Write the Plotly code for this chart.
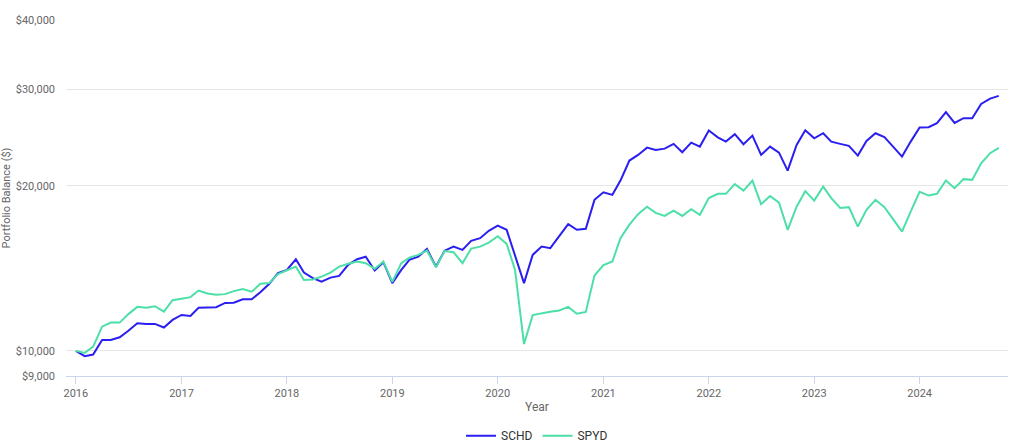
import plotly.graph_objects as go
import pandas as pd

dates = pd.date_range("2016-01-01", periods=106, freq="MS")

schd = [10000, 9780, 9846, 10472, 10470, 10590, 10880, 11230, 11200, 11200,
        11030, 11390, 11630, 11580, 11980, 11990, 12010, 12230, 12240, 12420,
        12420, 12790, 13250, 13860, 14050, 14690, 13890, 13570, 13370, 13600,
        13700, 14350, 14690, 14850, 14010, 14510, 13290, 14050, 14650, 14850,
        15340, 14240, 15230, 15490, 15280, 15870, 16050, 16550, 16920, 16620,
        14960, 13290, 14960, 15490, 15390, 16200, 17020, 16620, 16690, 18850,
        19460, 19250, 20440, 22230, 22760, 23470, 23240, 23370, 23840, 23020,
        23970, 23570, 25210, 24500, 24070, 24830, 23810, 24680, 22760, 23570,
        22980, 21310, 23740, 25250, 24410, 24930, 24070, 23840, 23640, 22700,
        24140, 24930, 24520, 23570, 22600, 24070, 25530, 25570, 26000, 27230,
        26030, 26550, 26550, 28190, 28830, 29160]

spyd = [10000, 9916, 10180, 11070, 11260, 11260, 11670, 12030, 11990, 12060,
        11790, 12370, 12450, 12530, 12880, 12720, 12660, 12690, 12850, 12970,
        12820, 13250, 13290, 13800, 14030, 14240, 13470, 13490, 13660, 13890,
        14240, 14420, 14550, 14450, 14110, 14550, 13360, 14450, 14790, 14960,
        15230, 14210, 15210, 15130, 14450, 15360, 15490, 15750, 16180, 15670,
        14050, 10290, 11620, 11710, 11780, 11850, 12030, 11690, 11780, 13720,
        14330, 14550, 16050, 16990, 17750, 18320, 17850, 17620, 18020, 17620,
        18120, 17700, 18990, 19330, 19330, 20130, 19600, 20440, 18510, 19160,
        18630, 16620, 18320, 19550, 18790, 19930, 18990, 18220, 18280, 16850,
        18070, 18850, 18280, 17380, 16500, 17940, 19490, 19190, 19330, 20440,
        19800, 20560, 20500, 21980, 22930, 23440]

y_ticks = [9000, 10000, 20000, 30000, 40000]
y_tick_labels = ["$9,000", "$10,000", "$20,000", "$30,000", "$40,000"]

FONT = "Roboto, 'Open Sans', sans-serif"

fig = go.Figure()
fig.add_trace(go.Scatter(x=dates, y=schd, mode="lines", name="SCHD",
                         line=dict(color="#2a1ff0", width=2)))
fig.add_trace(go.Scatter(x=dates, y=spyd, mode="lines", name="SPYD",
                         line=dict(color="#4ddfa8", width=2)))

fig.update_layout(
    width=1024, height=443,
    margin=dict(l=66, r=16, t=20, b=67, autoexpand=False),
    paper_bgcolor="white", plot_bgcolor="white",
    font=dict(family=FONT, size=11, color="#666666"),
    legend=dict(orientation="h", x=0.5, xanchor="center", y=-0.168, yanchor="middle",
                font=dict(size=12, color="#333333"), itemwidth=30),
    showlegend=True,
)
fig.update_xaxes(
    automargin=False,
    range=["2015-11-28", "2024-11-02"],
    tickformat="%Y", dtick="M12", tick0="2016-01-01",
    showgrid=False, showline=True, linecolor="#ccd6eb", linewidth=1,
    ticks="outside", ticklen=7, tickcolor="#ccd6eb",
    tickfont=dict(size=11, color="#666666"),
    title=dict(text="Year", font=dict(size=12, color="#666666"), standoff=3),
    zeroline=False,
)
fig.update_yaxes(
    automargin=False,
    type="log",
    range=[3.9542425, 4.6031],
    tickvals=y_ticks, ticktext=y_tick_labels,
    showgrid=True, gridcolor="#e6e6e6", gridwidth=1,
    showline=False, zeroline=False, ticks="",
    ticklabelstandoff=10,
    tickfont=dict(size=11, color="#666666"),
    title=dict(text="Portfolio Balance ($)", font=dict(size=11, color="#666666"), standoff=6),
)

fig.write_html(
    "out.html",
    config={"displayModeBar": False},
    post_script="document.body.style.margin='0';document.body.style.overflow='hidden';",
)
